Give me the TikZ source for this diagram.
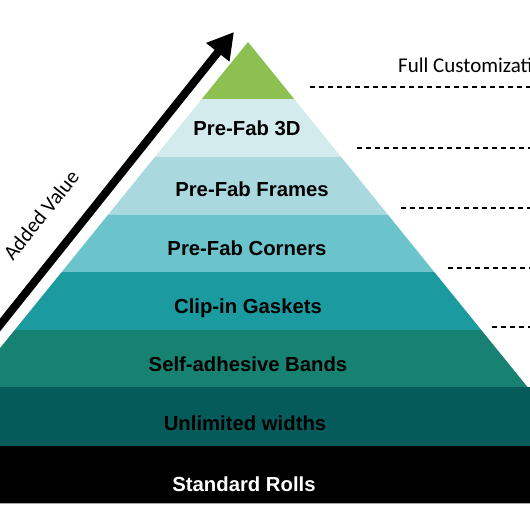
\documentclass[tikz,border=0pt]{standalone}
\usepackage{fontspec}
\setmainfont{Liberation Sans}
\newfontfamily\lightfont{Carlito}
\usetikzlibrary{arrows.meta}
\definecolor{cGreen}{HTML}{8CC152}
\definecolor{cL1}{HTML}{D4EBEE}
\definecolor{cL2}{HTML}{A9D8DE}
\definecolor{cL3}{HTML}{6BC4CC}
\definecolor{cL4}{HTML}{1B9AA0}
\definecolor{cL5}{HTML}{178272}
\definecolor{cL6}{HTML}{055A5A}
\tikzset{
  layerlabel/.style={anchor=base, inner sep=0pt, font=\fontsize{20.3}{23}\selectfont\bfseries},
  sidelabel/.style={inner sep=0pt, font=\lightfont\fontsize{21}{25}\selectfont},
  dashline/.style={line width=1.8pt, dash pattern=on 5pt off 4pt},
}
\begin{document}
\begin{tikzpicture}[x=1pt,y=-1pt]
\useasboundingbox (0,0) rectangle (530,530);
\clip (0,0) rectangle (530,530);
\fill[white] (0,0) rectangle (530,530);
% pyramid layers
\fill[cGreen] (248,42) -- (294.2,99) -- (201.8,99) -- cycle;
\fill[cL1] (201.8,99) -- (294.2,99) -- (341.2,157) -- (154.8,157) -- cycle;
\fill[cL2] (154.8,157) -- (341.2,157) -- (387.7,214.5) -- (108.3,214.5) -- cycle;
\fill[cL3] (108.3,214.5) -- (387.7,214.5) -- (434.3,272) -- (61.7,272) -- cycle;
\fill[cL4] (61.7,272) -- (434.3,272) -- (481.3,330) -- (14.7,330) -- cycle;
\fill[cL5] (14.7,330) -- (481.3,330) -- (527.5,387) -- (-31.5,387) -- cycle;
\fill[cL6] (-40,387) rectangle (570,445.5);
\fill[black] (-40,445.5) rectangle (570,503);
\draw[gray!70, line width=1pt] (-10,503.5) -- (540,503.5);
% labels
\node[layerlabel] (l1) at (247,135) {Pre-Fab 3D};
\node[layerlabel] (l2) at (252,196) {Pre-Fab Frames};
\node[layerlabel] (l3) at (247,255) {Pre-Fab Corners};
\node[layerlabel] (l4) at (248,313) {Clip-in Gaskets};
\node[layerlabel] (l5) at (248,371) {Self-adhesive Bands};
\node[layerlabel] (l6) at (245,430) {Unlimited widths};
\node[layerlabel, text=white] (l7) at (244,491) {Standard Rolls};
% arrow
\coordinate (arrS) at (-12,340);
\coordinate (arrE) at (234,32);
\draw[line width=8pt, -{Triangle[width=28pt,length=26pt]}] (arrS) -- (arrE);
\node[sidelabel, rotate=51.4] (added) at (41,215) {Added Value};
% top right text
\node[sidelabel, anchor=base west] (full) at (398,72) {Full Customization};
% dashed lines
\coordinate (d1s) at (310,87);   \coordinate (d1e) at (540,87);
\coordinate (d2s) at (357,148);  \coordinate (d2e) at (540,148);
\coordinate (d3s) at (401,208);  \coordinate (d3e) at (540,208);
\coordinate (d4s) at (448,268);  \coordinate (d4e) at (540,268);
\coordinate (d5s) at (492,327);  \coordinate (d5e) at (540,327);
\draw[dashline] (d1s) -- (d1e);
\draw[dashline] (d2s) -- (d2e);
\draw[dashline] (d3s) -- (d3e);
\draw[dashline] (d4s) -- (d4e);
\draw[dashline] (d5s) -- (d5e);
\end{tikzpicture}
\end{document}
